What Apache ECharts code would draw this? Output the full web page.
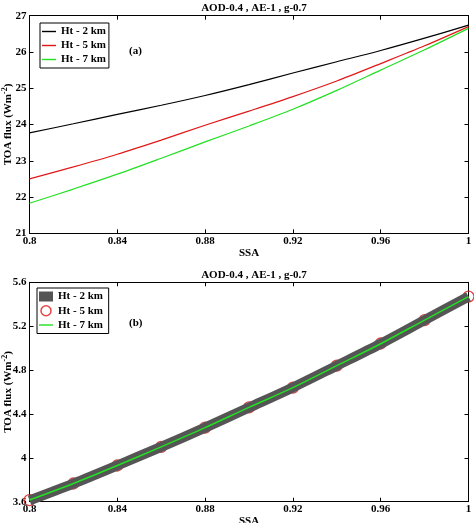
<!DOCTYPE html>
<html>
<head>
<meta charset="utf-8">
<script src="https://cdn.jsdelivr.net/npm/echarts@6/dist/echarts.min.js"></script>
<style>
  html, body { margin: 0; padding: 0; background: #fff; }
  #chart { width: 474px; height: 523px; }
</style>
</head>
<body>
<div id="chart"></div>
<script>
// SSA values shared by both panels
const ssa = [0.80, 0.82, 0.84, 0.86, 0.88, 0.90, 0.92, 0.94, 0.96, 0.98, 1.00];

// panel (a): TOA flux
const fluxA_2km = [23.77, 24.02, 24.28, 24.53, 24.80, 25.10, 25.42, 25.73, 26.04, 26.38, 26.74];
const fluxA_5km = [22.50, 22.83, 23.18, 23.57, 23.98, 24.37, 24.77, 25.20, 25.68, 26.17, 26.70];
const fluxA_7km = [21.83, 22.22, 22.63, 23.07, 23.52, 23.96, 24.42, 24.94, 25.50, 26.06, 26.65];

// panel (b): TOA flux
const fluxB_2km = [3.612, 3.765, 3.930, 4.100, 4.275, 4.458, 4.642, 4.840, 5.040, 5.255, 5.470];
const fluxB_5km = [3.615, 3.766, 3.930, 4.100, 4.276, 4.460, 4.640, 4.840, 5.042, 5.256, 5.470];
const fluxB_7km = [3.615, 3.766, 3.930, 4.100, 4.275, 4.460, 4.640, 4.840, 5.040, 5.256, 5.470];

const titleText = 'AOD-0.4 , AE-1 , g-0.7';
const seriesNames = ['Ht - 2 km', 'Ht - 5 km', 'Ht - 7 km'];
const seriesNamesB = ['Ht - 2 km ', 'Ht - 5 km ', 'Ht - 7 km '];

const font = 'Liberation Serif, Times New Roman, serif';
const pairs = arr => ssa.map((x, i) => [x, arr[i]]);
const lineIcon = 'path://M0,0 H14 V1.4 H0 Z';

const chart = echarts.init(document.getElementById('chart'));

const txt = { fontFamily: font, fontWeight: 'bold', fontSize: 11, color: '#000' };

function xAxes(grid) {
  return [{
    type: 'value', gridIndex: grid, min: 0.8, max: 1, interval: 0.04,
    name: 'SSA', nameLocation: 'middle', nameGap: 14,
    nameTextStyle: txt,
    axisLine: { lineStyle: { color: '#000', width: 1 } },
    axisTick: { inside: true, length: 4, lineStyle: { color: '#000' } },
    axisLabel: Object.assign({ margin: 2 }, txt),
    splitLine: { show: false }
  }, {
    type: 'value', gridIndex: grid, position: 'top', min: 0.8, max: 1, interval: 0.04,
    axisLine: { lineStyle: { color: '#000', width: 1 } },
    axisTick: { inside: true, length: 4, lineStyle: { color: '#000' } },
    axisLabel: { show: false },
    splitLine: { show: false }
  }];
}

function yAxes(grid, min, max, interval) {
  return [{
    type: 'value', gridIndex: grid, min: min, max: max, interval: interval,
    name: '{a|TOA flux (Wm}{s|-2}{a|)}', nameLocation: 'middle', nameRotate: 90, nameGap: 14,
    nameMoveOverlap: false,
    nameTextStyle: {
      rich: {
        a: { fontFamily: font, fontWeight: 'bold', fontSize: 11, color: '#000', lineHeight: 15 },
        s: { fontFamily: font, fontWeight: 'bold', fontSize: 8, color: '#000', verticalAlign: 'top' }
      }
    },
    axisLine: { show: true, lineStyle: { color: '#000', width: 1 } },
    axisTick: { show: true, inside: true, length: 4, lineStyle: { color: '#000' } },
    axisLabel: Object.assign({ margin: 3 }, txt),
    splitLine: { show: false }
  }, {
    type: 'value', gridIndex: grid, position: 'right', min: min, max: max, interval: interval,
    axisLine: { show: true, lineStyle: { color: '#000', width: 1 } },
    axisTick: { show: true, inside: true, length: 4, lineStyle: { color: '#000' } },
    axisLabel: { show: false },
    splitLine: { show: false }
  }];
}

const legendBase = {
  orient: 'vertical',
  padding: [3, 3, 3, 2], itemGap: 3, itemWidth: 14, itemHeight: 10,
  borderColor: '#000', borderWidth: 1, backgroundColor: '#fff',
  textStyle: txt
};

const option = {
  backgroundColor: '#fff',
  animation: false,
  title: [
    { text: titleText, left: 249, top: -2, textAlign: 'center', textStyle: txt },
    { text: titleText, left: 249, top: 265, textAlign: 'center', textStyle: txt }
  ],
  grid: [
    { left: 29.5, right: 5.5, top: 15.7, height: 217.6, outerBoundsMode: 'none', containLabel: false },
    { left: 29.5, right: 5.5, top: 282.3, height: 219.4, outerBoundsMode: 'none', containLabel: false }
  ],
  xAxis: [].concat(xAxes(0), xAxes(1)),
  yAxis: [].concat(yAxes(0, 21, 27, 1), yAxes(1, 3.6, 5.6, 0.4)),
  legend: [Object.assign({}, legendBase, {
    left: 40, top: 23,
    data: [
      { name: seriesNames[0], icon: lineIcon },
      { name: seriesNames[1], icon: lineIcon },
      { name: seriesNames[2], icon: lineIcon }
    ]
  }), Object.assign({}, legendBase, {
    left: 37, top: 288,
    data: [
      { name: seriesNamesB[0], icon: 'rect', itemStyle: { color: '#555555' } },
      { name: seriesNamesB[1], icon: 'circle', itemStyle: { color: '#fff', borderColor: '#e01818', borderWidth: 1.5 } },
      { name: seriesNamesB[2], icon: lineIcon }
    ]
  })],
  graphic: [
    { type: 'text', left: 129, top: 46, style: { text: '(a)', font: 'bold 11px ' + font, fill: '#000' } },
    { type: 'text', left: 129, top: 318, style: { text: '(b)', font: 'bold 11px ' + font, fill: '#000' } }
  ],
  series: [
    { name: seriesNames[0], type: 'line', xAxisIndex: 0, yAxisIndex: 0, data: pairs(fluxA_2km),
      smooth: 0.3, symbol: 'none', color: '#000', lineStyle: { width: 1.2 } },
    { name: seriesNames[1], type: 'line', xAxisIndex: 0, yAxisIndex: 0, data: pairs(fluxA_5km),
      smooth: 0.3, symbol: 'none', color: '#e01818', lineStyle: { width: 1.2 } },
    { name: seriesNames[2], type: 'line', xAxisIndex: 0, yAxisIndex: 0, data: pairs(fluxA_7km),
      smooth: 0.3, symbol: 'none', color: '#22e022', lineStyle: { width: 1.2 } },

    { name: seriesNamesB[0], type: 'line', xAxisIndex: 2, yAxisIndex: 2, data: pairs(fluxB_2km),
      smooth: 0.3, symbol: 'none', color: '#555555', lineStyle: { width: 10 } },
    { name: seriesNamesB[1], type: 'scatter', xAxisIndex: 2, yAxisIndex: 2, data: pairs(fluxB_5km),
      symbol: 'circle', symbolSize: 11, clip: false,
      itemStyle: { color: 'rgba(0,0,0,0)', borderColor: '#d01818', borderWidth: 1.3 } },
    { name: seriesNamesB[2], type: 'line', xAxisIndex: 2, yAxisIndex: 2, data: pairs(fluxB_7km),
      smooth: 0.3, symbol: 'none', color: '#22e022', lineStyle: { width: 1.5 } }
  ]
};

chart.setOption(option);
</script>
</body>
</html>
